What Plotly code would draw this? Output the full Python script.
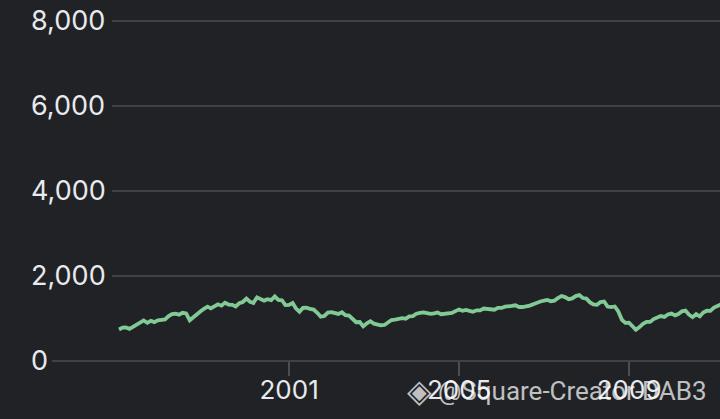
import plotly.graph_objects as go
import pandas as pd

# Monthly S&P 500 closes (Dec 1996 - Mar 2011)
start_month = "1996-12-31"
values = [
    740.74,
    786.16, 790.82, 757.12, 801.34, 848.28, 885.14, 954.31, 899.47, 947.28, 914.62, 955.40, 970.43,
    980.28, 1049.34, 1101.75, 1111.75, 1090.82, 1133.84, 1120.67, 957.28, 1017.01, 1098.67, 1163.63, 1229.23,
    1279.64, 1238.33, 1286.37, 1335.18, 1301.84, 1372.71, 1328.72, 1320.41, 1282.71, 1362.93, 1388.91, 1469.25,
    1394.46, 1366.42, 1498.58, 1452.43, 1420.60, 1454.60, 1430.83, 1517.68, 1436.51, 1429.40, 1314.95, 1320.28,
    1366.01, 1239.94, 1160.33, 1249.46, 1255.82, 1224.38, 1211.23, 1133.58, 1040.94, 1059.78, 1139.45, 1148.08,
    1130.20, 1106.73, 1147.39, 1076.92, 1067.14, 989.82, 911.62, 916.07, 815.28, 885.76, 936.31, 879.82,
    855.70, 841.15, 848.18, 916.92, 963.59, 974.50, 990.31, 1008.01, 995.97, 1050.71, 1058.20, 1111.92,
    1131.13, 1144.94, 1126.21, 1107.30, 1120.68, 1140.84, 1101.72, 1104.24, 1114.58, 1130.20, 1173.82, 1211.92,
    1181.27, 1203.60, 1180.59, 1156.85, 1191.50, 1191.33, 1234.18, 1220.33, 1228.81, 1207.01, 1249.48, 1248.29,
    1280.08, 1280.66, 1294.83, 1310.61, 1270.09, 1270.20, 1276.66, 1303.82, 1335.85, 1377.94, 1400.63, 1418.30,
    1438.24, 1406.82, 1420.86, 1482.37, 1530.62, 1503.35, 1455.27, 1473.99, 1526.75, 1549.38, 1481.14, 1468.36,
    1378.55, 1330.63, 1322.70, 1385.59, 1400.38, 1280.00, 1267.38, 1282.83, 1166.36, 968.75, 896.24, 903.25,
    825.88, 735.09, 797.87, 872.81, 919.14, 919.32, 987.48, 1020.62, 1057.08, 1036.19, 1095.63, 1115.10,
    1073.87, 1104.49, 1169.43, 1186.69, 1089.41, 1030.71, 1101.60, 1049.33, 1141.20, 1183.26, 1180.55, 1257.64,
    1286.12, 1327.22, 1325.83,
]
dates = pd.date_range(start=start_month, periods=len(values), freq="ME")

y_ticks = [0, 2000, 4000, 6000, 8000]
y_labels = ["0", "2,000", "4,000", "6,000", "8,000"]
x_ticks = ["2001-01-01", "2005-01-01", "2009-01-01"]
x_labels = ["2001", "2005", "2009"]

BG = "#202226"
GRID = "#4b4d51"
TXT = "#e8eaed"
LINE = "#81c995"
FONT = "Inter"

W, H = 720, 419
ML, MR, MT, MB = 28, 0, 0, 29
plot_w = W - ML - MR
plot_h = H - MT - MB
px_per_unit = 85 / 2000.0
y_top = 8000 + 21 / px_per_unit
y_bot = y_top - plot_h / px_per_unit
axis_pos = (plot_h - 361) / plot_h

fig = go.Figure()
fig.add_trace(go.Scatter(x=dates, y=values, mode="lines",
                         line=dict(color=LINE, width=3.8), hoverinfo="skip"))

# gridlines that start just after each label
for v, lab in zip(y_ticks, y_labels):
    start_px = 112 if len(lab) > 1 else 52
    fig.add_shape(type="line", xref="paper", yref="y",
                  x0=(start_px - ML) / plot_w, x1=1, y0=v, y1=v,
                  line=dict(color=GRID, width=1.5), layer="below")

fig.update_layout(
    width=W, height=H,
    margin=dict(l=ML, r=MR, t=MT, b=MB),
    paper_bgcolor=BG, plot_bgcolor=BG,
    showlegend=False,
    font=dict(family=FONT, color=TXT, size=26),
    xaxis=dict(range=["1994-11-10", "2011-02-21"], tickvals=x_ticks, ticktext=x_labels,
               anchor="free", position=axis_pos,
               showgrid=False, zeroline=False, showline=False,
               ticks="outside", ticklen=14, tickwidth=2, tickcolor=GRID,
               ticklabelstandoff=-8,
               tickfont=dict(family=FONT, size=26, color=TXT)),
    yaxis=dict(range=[y_bot, y_top], tickvals=y_ticks, ticktext=y_labels,
               showgrid=False, zeroline=False, showline=False,
               ticklabelposition="inside", ticks="",
               tickfont=dict(family=FONT, size=27, color=TXT)),
)

wm_y = (plot_h - 391) / plot_h
fig.add_annotation(xref="paper", yref="paper", x=(436 - ML) / plot_w, y=wm_y,
                   xanchor="left", yanchor="middle", showarrow=False,
                   text="@Square-Creator-DAB3",
                   font=dict(family="Roboto", size=26, color="rgba(255,255,255,0.72)"))
fig.add_annotation(xref="paper", yref="paper", x=(434 - ML) / plot_w, y=wm_y,
                   xanchor="right", yanchor="middle", showarrow=False,
                   text="◈",
                   font=dict(family="DejaVu Sans", size=32, color="rgba(255,255,255,0.72)"))

fig.write_html("out.html", config={"displayModeBar": False},
               post_script="document.body.style.margin='0';")
